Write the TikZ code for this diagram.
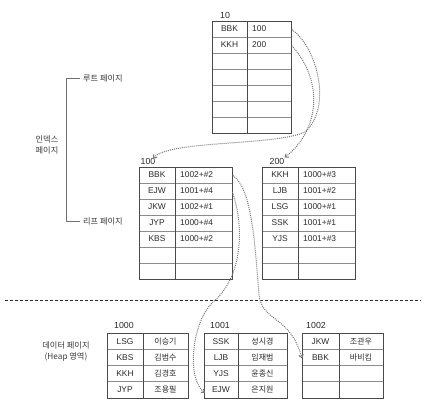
\documentclass[tikz,border=0pt]{standalone}
\usepackage{fontspec}
\setmainfont{Liberation Sans}
\newfontfamily\kr{Noto Sans CJK KR}
\usetikzlibrary{arrows.meta,calc}
\definecolor{txt}{HTML}{2A2A2A}
\definecolor{lbl}{HTML}{3A3A3A}
\definecolor{outl}{HTML}{4A4A4A}
\definecolor{inl}{HTML}{8C8C8C}
\definecolor{dotc}{HTML}{7A7A7A}
\tikzset{
  outer/.style={draw=outl,line width=0.85pt},
  inner/.style={draw=inl,line width=0.75pt},
  cellk/.style={font=\fontsize{8.4}{9}\selectfont,text=txt,inner sep=0pt},
  cellv/.style={font=\fontsize{8.4}{9}\selectfont,text=txt,inner sep=0pt},
  cellkr/.style={font=\kr\fontsize{8}{9}\selectfont,text=txt,inner sep=0pt},
  pglabel/.style={font=\fontsize{8.8}{10}\selectfont,text=txt,inner sep=1pt},
  sidelabel/.style={font=\kr\fontsize{8.2}{11.5}\selectfont,text=lbl,inner sep=0pt,align=center},
  brk/.style={draw=inl!80!black,line width=0.75pt},
  ptr/.style={draw=dotc,line width=1pt,densely dotted,-{Straight Barb[length=2.8pt,width=4.5pt]},shorten <=1pt},
  sep/.style={draw=txt,line width=0.85pt,dash pattern=on 3pt off 2pt}
}
% index table: #1 name, #2 x0, #3 xdiv, #4 x1, #5 ytop, #6 nrows, #7 entries
\newcommand\idxtable[7]{%
  \pgfmathsetmacro\ybot{#5+16*#6}%
  \pgfmathtruncatemacro\nm{#6-1}%
  \foreach \r in {1,...,\nm} \draw[inner] (#2,{#5+16*\r}) -- (#4,{#5+16*\r});
  \draw[outer] (#2,#5) rectangle (#4,\ybot);
  \draw[outer] (#3,#5) -- (#3,\ybot);
  \foreach \r in {1,...,#6} {
    \coordinate (#1-e\r) at (#4,{#5+16*\r-8});
    \coordinate (#1-w\r) at (#2,{#5+16*\r-8});
  }
  \foreach \k/\v [count=\i] in {#7} {
    \node[cellk] (#1-k\i) at ({(#2+#3)/2},{#5+16*\i-8}) {\k};
    \node[cellv,anchor=west] (#1-v\i) at (#3+5,{#5+16*\i-8}) {\v};
  }
}
\newcommand\datatable[7]{%
  \pgfmathsetmacro\ybot{#5+16.25*#6}%
  \pgfmathtruncatemacro\nm{#6-1}%
  \foreach \r in {1,...,\nm} \draw[inner] (#2,{#5+16.25*\r}) -- (#4,{#5+16.25*\r});
  \draw[outer] (#2,#5) rectangle (#4,\ybot);
  \draw[outer] (#3,#5) -- (#3,\ybot);
  \foreach \r in {1,...,#6} {
    \coordinate (#1-e\r) at (#4,{#5+16.25*\r-8.1});
    \coordinate (#1-w\r) at (#2,{#5+16.25*\r-8.1});
  }
  \foreach \k/\v [count=\i] in {#7} {
    \node[cellk] (#1-k\i) at ({(#2+#3)/2},{#5+16.25*\i-8.1}) {\k};
    \node[cellkr] (#1-v\i) at ({(#3+#4)/2},{#5+16.25*\i-8.1}) {\v};
  }
}
\begin{document}
\begin{tikzpicture}[x=1pt,y=-1pt]
\useasboundingbox[fill=white] (0,0) rectangle (428,401);

% page labels
\node[pglabel] (l10) at (225,15) {10};
\node[pglabel] (l100) at (148,161) {100};
\node[pglabel] (l200) at (277,161) {200};
\node[pglabel] (l1000) at (124,325) {1000};
\node[pglabel] (l1001) at (220,325) {1001};
\node[pglabel] (l1002) at (316,325) {1002};

% tables
\idxtable{root}{212}{247}{291}{21}{7}{BBK/100,KKH/200}
\idxtable{lfa}{139}{175}{232}{167}{7}{BBK/1002+\#2,EJW/1001+\#4,JKW/1002+\#1,JYP/1000+\#4,KBS/1000+\#2}
\idxtable{lfb}{262}{298}{355}{167}{7}{KKH/1000+\#3,LJB/1001+\#2,LSG/1000+\#1,SSK/1001+\#1,YJS/1001+\#3}
\datatable{da}{107}{143}{188}{333}{4}{LSG/이승기,KBS/김범수,KKH/김경호,JYP/조용필}
\datatable{db}{204}{238}{287}{333}{4}{SSK/성시경,LJB/임재범,YJS/윤종신,EJW/은지원}
\datatable{dc}{302}{339}{383}{333}{4}{JKW/조관우,BBK/바비킴}

% side labels
\node[sidelabel,anchor=west] (lroot) at (83,78) {루트 페이지};
\node[sidelabel,anchor=west] (lleaf) at (83,221) {리프 페이지};
\node[sidelabel] (lidx) at (47,145) {인덱스\\페이지};
\node[sidelabel] (ldata) at (66,351.5) {데이터 페이지\\(Heap 영역)};
\draw[brk] ([xshift=-3.5pt]lroot.west) -- ++(-13.5,0) |- ([xshift=-3.5pt]lleaf.west);

% separator
\coordinate (sepL) at (5,300);
\coordinate (sepR) at (421,300);
\draw[sep] (sepL) -- (sepR);

% pointers
\draw[ptr] (root-e1) .. controls (318,48) and (332,108) .. (305,132)
  .. controls (275,146) and (168,140) .. ([xshift=5pt,yshift=-2pt]l100.north);
\draw[ptr] (root-e2) .. controls (322,78) and (322,128) .. ([xshift=-1pt,yshift=-1pt]l200.north east);
\draw[ptr] (lfa-e1) .. controls (252,188) and (255,245) .. (259,295)
  .. controls (262,322) and (290,315) .. ([yshift=-1pt]dc-w2);
\draw[ptr] (lfa-e2) .. controls (245,228) and (242,278) .. (213,302)
  .. controls (192,322) and (186,378) .. ([xshift=1pt,yshift=-3pt]db-w4);
\end{tikzpicture}
\end{document}
